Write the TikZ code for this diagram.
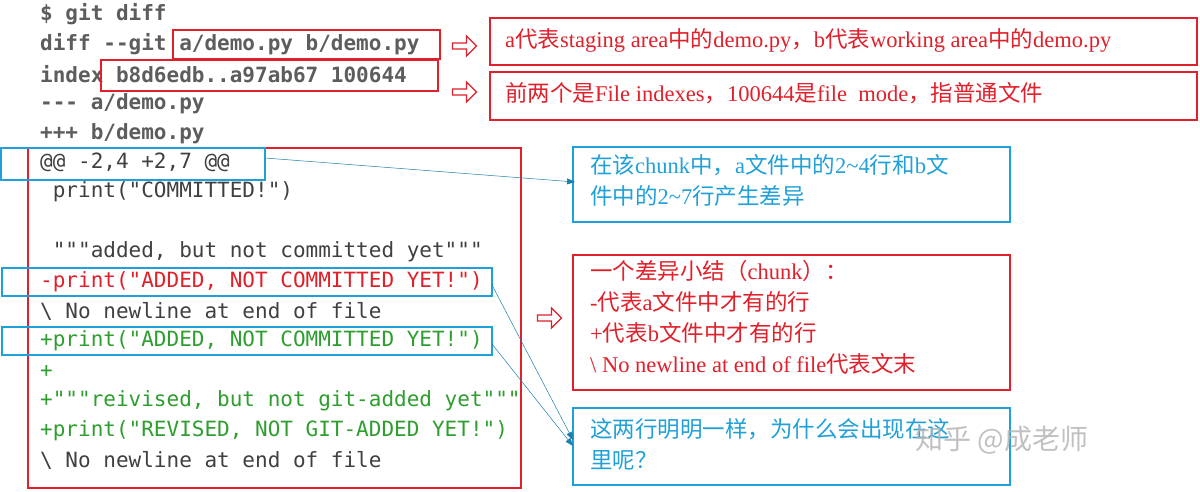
\documentclass[tikz,border=0pt]{standalone}
\usepackage{fontspec}
\setmainfont{Liberation Serif}
\setmonofont{DejaVu Sans Mono}
\newfontfamily\cjk{Noto Sans CJK SC}
\usetikzlibrary{shapes.arrows,arrows.meta}
\definecolor{rd}{HTML}{E0202A}
\definecolor{bl}{HTML}{20A0D8}
\definecolor{gr}{HTML}{2E9E2E}
\definecolor{cd}{HTML}{404040}
\tikzset{x=1pt,y=-1pt,
 code/.style={anchor=west,inner sep=0pt,font=\ttfamily\fontsize{21}{21}\selectfont,text=cd},
 hdr/.style={code,font=\ttfamily\bfseries\fontsize{21}{21}\selectfont,text=cd!85},
 rbox/.style={draw=rd,line width=1.3pt},
 bbox/.style={draw=bl,line width=1.3pt},
 note/.style={anchor=north west,align=left,inner sep=0pt,font=\fontsize{22.5}{31}\selectfont},
 harrow/.style={single arrow,draw=rd,line width=1.3pt,minimum height=24pt,minimum width=20pt,single arrow head extend=4pt,inner sep=1pt},
 conn/.style={draw=bl!80!black,line width=0.5pt,-{Triangle[length=8pt,width=6pt]}}}
\begin{document}
\begin{tikzpicture}
\useasboundingbox[fill=white] (0,0) rectangle (1200,491);
\node[hdr] (l1) at (40,14) {\$ git diff};
\node[hdr] (l2) at (40,44) {diff --git a/demo.py b/demo.py};
\node[hdr] (l3) at (40,74) {index b8d6edb..a97ab67 100644};
\node[hdr] (l4) at (40,104) {--- a/demo.py};
\node[hdr] (l5) at (40,134) {+++ b/demo.py};
\node[code] (l6) at (40,162) {@@ -2,4 +2,7 @@};
\node[code] (l7) at (40,192) {\ print("COMMITTED!")};
\node[code] (l8) at (40,252) {\ """added, but not committed yet"""};
\node[code,text=rd] (l9) at (40,282) {-print("ADDED, NOT COMMITTED YET!")};
\node[code] (l10) at (40,311) {\textbackslash{} No newline at end of file};
\node[code,text=gr] (l11) at (40,341) {+print("ADDED, NOT COMMITTED YET!")};
\node[code,text=gr] (l12) at (40,371) {+};
\node[code,text=gr] (l13) at (40,401) {+"""reivised, but not git-added yet"""};
\node[code,text=gr] (l14) at (40,431) {+print("REVISED, NOT GIT-ADDED YET!")};
\node[code] (l15) at (40,460) {\textbackslash{} No newline at end of file};
% highlight boxes
\draw[rbox] (173,30) rectangle (440,59);
\draw[rbox] (101,60) rectangle (438,91);
\draw[rbox] (28,148) rectangle (521,488);
\draw[bbox] (1,148) rectangle (265,180);
\draw[bbox] (2,268) rectangle (492,296);
\draw[bbox] (2,327) rectangle (492,355);
\coordinate (c1) at (265,158);
\coordinate (c2) at (492,285);
\coordinate (c3) at (492,344);
% block arrows
\node[harrow] (a1) at (463,46) {};
\node[harrow] (a2) at (463,92) {};
\node[harrow] (a3) at (548,318) {};
% notes
\draw[rbox] (490,18) rectangle (1197,65);
\node[note,text=rd] (n1) at (505,28) {a{\cjk 代表}staging area{\cjk 中的}demo.py{\cjk ，}b{\cjk 代表}working area{\cjk 中的}demo.py};
\draw[rbox] (490,72) rectangle (1197,120);
\node[note,text=rd] (n2) at (505,82) {{\cjk 前两个是}File indexes{\cjk ，}100644{\cjk 是}file\ \ mode{\cjk ，指普通文件}};
\draw[bbox] (573,147) rectangle (1010,222);
\node[note,text=bl] (n3) at (590,154) {{\cjk 在该}chunk{\cjk 中，}a{\cjk 文件中的}2\textasciitilde 4{\cjk 行和}b{\cjk 文}\\{\cjk 件中的}2\textasciitilde 7{\cjk 行产生差异}};
\draw[bbox] (573,255) rectangle (1010,390) [draw=rd];
\node[note,text=rd] (n4) at (590,260) {{\cjk 一个差异小结（}chunk{\cjk ）：}\\-{\cjk 代表}a{\cjk 文件中才有的行}\\+{\cjk 代表}b{\cjk 文件中才有的行}\\\textbackslash{} No newline at end of file{\cjk 代表文末}};
\draw[bbox] (573,408) rectangle (1010,485);
\node[note,text=bl] (n5) at (590,418) {{\cjk 这两行明明一样，为什么会出现在这}\\{\cjk 里呢？}};
\coordinate (t1) at (575,182);
\coordinate (t2) at (573,440);
\coordinate (t3) at (573,446);
\draw[conn] (c1) -- (t1);
\draw[conn] (c2) -- (t2);
\draw[conn] (c3) -- (t3);
\node[anchor=west,text=gray!60,font=\cjk\fontsize{28}{28}\selectfont,opacity=0.8] (wm) at (912,440) {知乎 @成老师};
\end{tikzpicture}
\end{document}
